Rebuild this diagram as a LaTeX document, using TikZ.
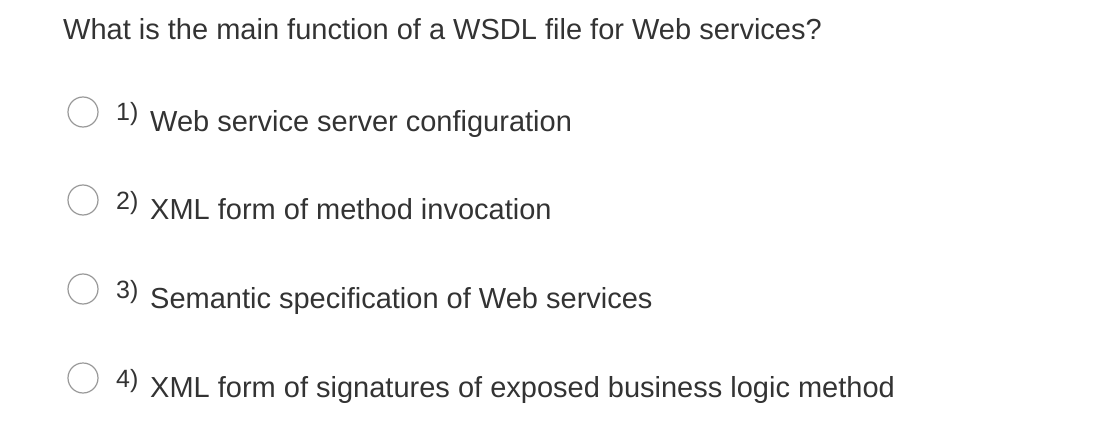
\documentclass[tikz,border=0pt]{standalone}
\usepackage{fontspec}
\setmainfont{Liberation Sans}
\definecolor{txt}{HTML}{333333}
\definecolor{ring}{HTML}{999999}
\begin{document}
\begin{tikzpicture}[x=1pt,y=-1pt,
  radio/.style={circle,draw=ring,line width=1.2pt,minimum size=30pt,inner sep=0pt},
  num/.style={anchor=base west,inner sep=0pt,text=txt,font=\fontsize{25}{28}\selectfont},
  opt/.style={anchor=base west,inner sep=0pt,text=txt,font=\fontsize{29}{32}\selectfont}]
\useasboundingbox (0,0) rectangle (1114,436);
\node[opt] (q) at (63,40) {What is the main function of a WSDL file for Web services?};
\foreach \i/\y/\t in {1/112/Web service server configuration,
                      2/200/XML form of method invocation,
                      3/289/Semantic specification of Web services,
                      4/378/XML form of signatures of exposed business logic method}{
  \node[radio] (r\i) at (83,\y) {};
  \node[num] (n\i) at (116,\y+9) {\i)};
  \node[opt] (o\i) at (150,\y+19) {\t};
}
\end{tikzpicture}
\end{document}
